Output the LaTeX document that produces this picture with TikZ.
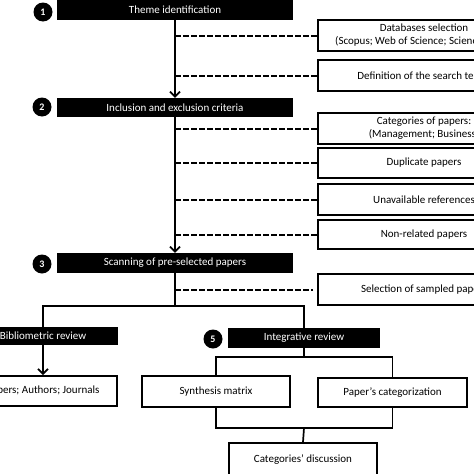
\documentclass[tikz,border=0pt]{standalone}
\usepackage{fontspec}
\setmainfont{Carlito}
\usetikzlibrary{arrows.meta}

\begin{document}
\begin{tikzpicture}[x=1pt, y=-1pt, font=\fontsize{11}{13}\selectfont]
    \tikzstyle{stage} = [fill=black, text=white, inner sep=0pt, minimum height=20pt]
    \tikzstyle{num} = [circle, fill=black, text=white, font=\bfseries, inner sep=0pt, minimum size=19pt]
    \tikzstyle{sidebox} = [draw, line width=2.2pt, inner sep=0pt, minimum width=212pt, minimum height=31pt, align=center]
    \tikzstyle{outbox} = [draw, line width=1.8pt, inner sep=0pt, minimum width=148pt, minimum height=31pt]
    \tikzstyle{link} = [line width=1.7pt]
    \tikzstyle{dashlink} = [line width=2pt, dash pattern=on 5.5pt off 2.5pt]
    \tikzstyle{tip} = [-{Straight Barb[length=5pt, width=10pt, line width=1.7pt]}]
    \useasboundingbox (0, 0) rectangle (474, 474);
    \clip (0, 0) rectangle (474, 474);
    % stages
    \node [stage, minimum width=236pt] (theme) at (175, 10) {Theme identification};
    \node [stage, minimum width=236pt, minimum height=19pt] (incl) at (175, 107.5) {Inclusion and exclusion criteria};
    \node [stage, minimum width=236pt] (scan) at (175, 263) {Scanning of pre-selected papers};
    \node [stage, minimum width=150pt, minimum height=18pt] (biblio) at (43, 336) {Bibliometric review};
    \node [stage, minimum width=152pt] (integ) at (304, 338) {Integrative review};
    \node [num] (n1) at (43, 12) {1};
    \node [num] (n2) at (42, 107) {2};
    \node [num] (n3) at (42, 264) {3};
    \node [num] (n5) at (213, 339) {5};
    % side boxes
    \node [sidebox] (dbsel) at (424, 35.5) {Databases selection\\(Scopus; Web of Science; ScienceDirect)};
    \node [sidebox] (terms) at (424, 75.5) {Definition of the search terms};
    \node [sidebox] (categ) at (424, 128.5) {Categories of papers:\\(Management; Business)};
    \node [sidebox, minimum height=30pt] (dupl) at (424, 163) {Duplicate papers};
    \node [sidebox] (unav) at (424, 199.5) {Unavailable references};
    \node [sidebox, minimum height=29pt] (nonrel) at (424, 234.5) {Non-related papers};
    \node [sidebox] (sample) at (424, 289.5) {Selection of sampled papers};
    % outputs
    \node [outbox, minimum height=30pt] (counts) at (43, 391) {Papers; Authors; Journals};
    \node [outbox] (synth) at (216, 391.5) {Synthesis matrix};
    \node [outbox, minimum width=149pt, minimum height=29pt] (paperc) at (392.5, 392.5) {Paper's categorization};
    \node [outbox, minimum height=34pt] (disc) at (303, 460) {Categories' discussion};
    \coordinate (split) at (175, 306);
    \coordinate (fork) at (304, 357);
    \coordinate (join) at (304, 428);
    % connectors
    \draw [link, tip] (theme.south) -- (incl.north);
    \draw [link, tip] (incl.south) -- (scan.north);
    \draw [dashlink] (theme.south |- dbsel.west) -- (dbsel.west);
    \draw [dashlink] (theme.south |- terms.west) -- (terms.west);
    \draw [dashlink] (incl.south |- categ.west) -- (categ.west);
    \draw [dashlink] (incl.south |- dupl.west) -- (dupl.west);
    \draw [dashlink] (incl.south |- unav.west) -- (unav.west);
    \draw [dashlink] (incl.south |- nonrel.west) -- (nonrel.west);
    \draw [dashlink] (scan.south |- sample.west) -- ([xshift=-4pt]sample.west);
    \draw [link] (scan.south) -- (split);
    \draw [link] (biblio.north) |- (split) -| (integ.north);
    \draw [link, tip] (biblio.south) -- (counts.north);
    \draw [link] (integ.south) -- (fork);
    \draw [link] (synth.north) |- (fork) -| (paperc.north);
    \draw [link] (synth.south) |- (join) -| (paperc.south);
    \draw [link] (join) -- (disc.north);
\end{tikzpicture}
\end{document}
